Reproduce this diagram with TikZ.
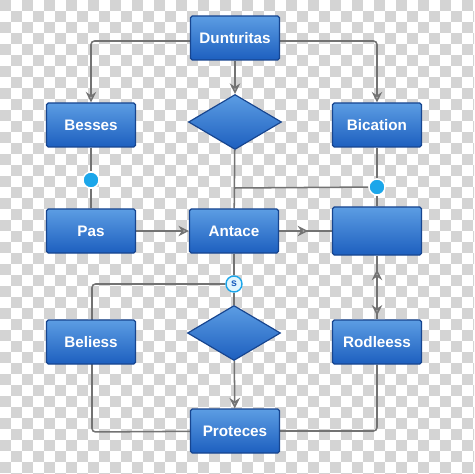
\documentclass[tikz,border=0pt]{standalone}
\usepackage{fontspec}
\setmainfont{Liberation Sans}
\usetikzlibrary{shapes.geometric,arrows.meta,decorations.markings}
\definecolor{boxtop}{HTML}{5C9DE3}
\definecolor{boxbot}{HTML}{1D5FBF}
\definecolor{boxline}{HTML}{17458F}
\definecolor{wire}{HTML}{737373}
\definecolor{dotcyan}{HTML}{1BA6EA}
\definecolor{checker}{HTML}{D4D4D4}
\pgfdeclarelayer{back}
\pgfdeclarelayer{wires}
\pgfsetlayers{back,wires,main}
\tikzset{gtip/.tip={Stealth[length=9pt,width=9pt,inset=3pt,fill=gray!55,color=wire]}}

\begin{document}
\begin{tikzpicture}[x=0.3mm,y=-0.3mm,
    box/.style={draw=boxline,line width=1pt,rounded corners=1.5pt,top color=boxtop,bottom color=boxbot,
      minimum width=26.7mm,minimum height=13.2mm,inner sep=0pt,text=white,font=\bfseries\fontsize{13}{15}\selectfont},
    dec/.style={diamond,draw=boxline,line width=1pt,top color=boxtop,bottom color=boxbot,
      minimum width=27.9mm,minimum height=16.5mm,inner sep=0pt},
    dot/.style={circle,draw=white,line width=1.2pt,fill=dotcyan,minimum size=4.8mm,inner sep=0pt},
    sdot/.style={circle,draw=dotcyan,line width=1.2pt,fill=cyan!12,minimum size=4.8mm,inner sep=0pt,
      text=boxbot,font=\bfseries\small},
    link/.style={draw=wire,line width=1.3pt,rounded corners=3pt},
    arr/.style={link,-gtip},
    midtip/.style={postaction={decorate},decoration={markings,mark=at position 0.55 with {\arrow{gtip}}}},
    twotips/.style={postaction={decorate},decoration={markings,
      mark=at position 0.22 with {\arrowreversed{gtip}},mark=at position 0.94 with {\arrow{gtip}}}}]
  \useasboundingbox (0,0) rectangle (474,474);
  % background
  \begin{pgfonlayer}{back}
    \begin{scope}
      \clip (0,0) rectangle (474,474);
      \fill[white] (0,0) rectangle (474,474);
      \foreach \i in {0,...,43}
        \foreach \j in {0,2,...,42}
          \fill[checker] ({11*\i},{11*(\j+mod(\i,2))}) rectangle ++(11,11);
    \end{scope}
  \end{pgfonlayer}

  \node[box] (dun) at (235,38) {Duntıritas};
  \node[dec] (dia1) at (235,122) {};
  \node[box] (bes) at (91,125) {Besses};
  \node[box] (bic) at (377,125) {Bication};
  \node[dot] (dotl) at (91,180) {};
  \node[dot] (dotr) at (377,187) {};
  \node[box] (pas) at (91,231) {Pas};
  \node[box] (ant) at (234,231) {Antace};
  \node[box,minimum height=14.4mm] (blank) at (377,231) {};
  \node[sdot] (sd) at (234,284) {s};
  \node[dec] (dia2) at (234,333) {};
  \node[box] (bel) at (91,342) {Beliess};
  \node[box] (rod) at (377,342) {Rodleess};
  \node[box] (pro) at (235,431) {Proteces};
  \coordinate (jn) at (234,188);
  \coordinate (bl) at (92,432);

  % connectors
  \begin{pgfonlayer}{wires}
    \draw[arr] ([yshift=-0.9mm]dun.west) -| (bes.north);
    \draw[arr] ([yshift=-0.9mm]dun.east) -| (bic.north);
    \draw[arr] (dun) -- (dia1);
    \draw[link] (bes) -- (dotl) -- (pas);
    \draw[link] (bic) -- (dotr) -- (blank);
    \draw[link] (dia1) -- (ant);
    \draw[link] (jn) -- (dotr);
    \draw[arr] (pas) -- (ant);
    \draw[link,midtip] (ant) -- (blank);
    \draw[link,twotips] (blank) -- (rod);
    \draw[link] (ant) -- (sd) -- (dia2);
    \draw[link] (sd) -| (bl) -- (pro);
    \draw[arr] (dia2) -- (pro);
    \draw[link] (rod) |- (pro);
  \end{pgfonlayer}
\end{tikzpicture}
\end{document}
